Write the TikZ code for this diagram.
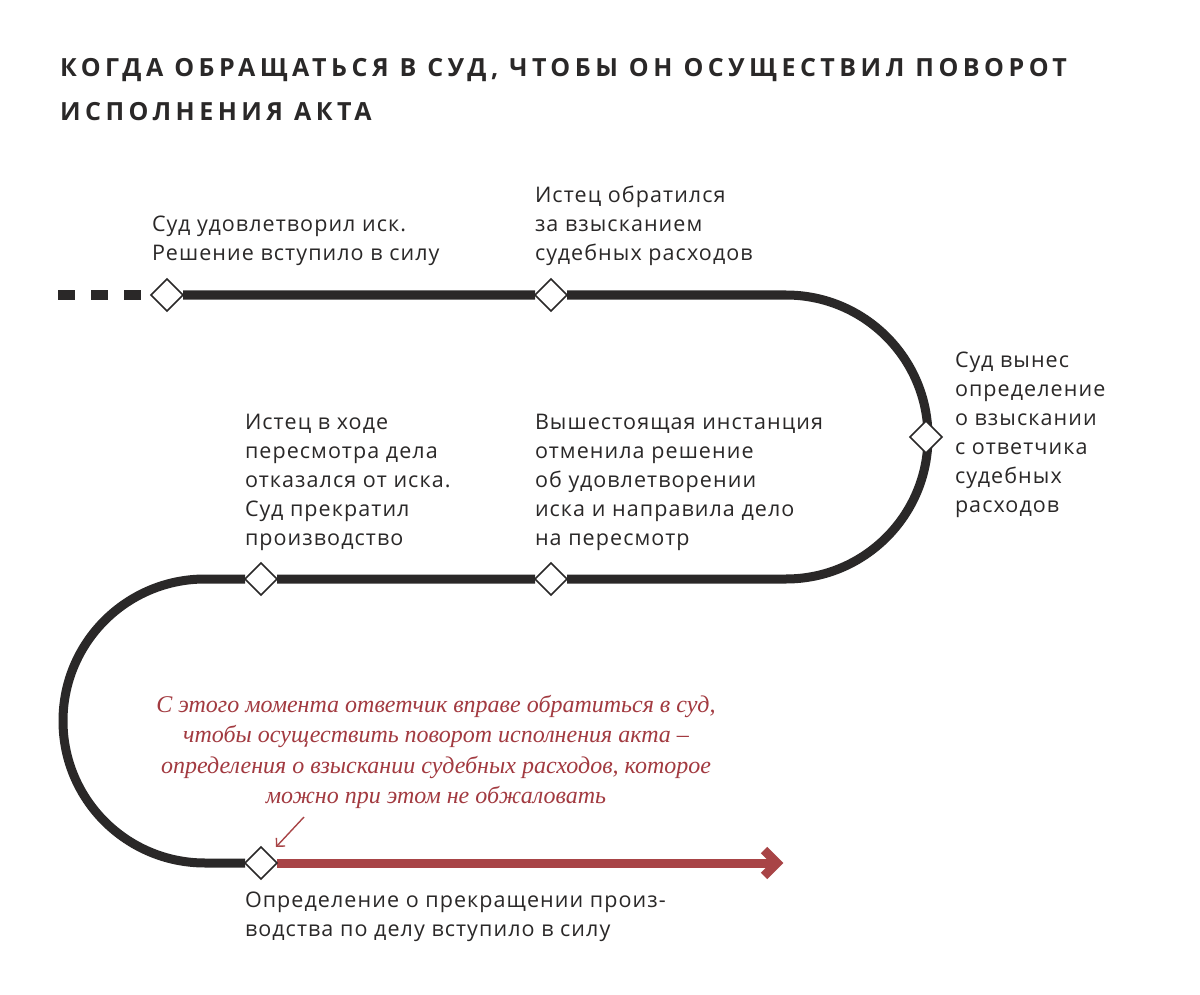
\documentclass[tikz,border=0pt]{standalone}
\usepackage{fontspec}
\setmainfont{Open Sans}
\newfontfamily\notefont{Liberation Serif}
\usetikzlibrary{shapes.geometric,arrows.meta,backgrounds,calc}
\definecolor{ink}{HTML}{2A2828}
\definecolor{wine}{HTML}{A84446}
\definecolor{winetext}{HTML}{A23A40}
\newcommand{\txtblock}[2]{\parbox[t]{#1}{\raggedright #2}}
\begin{document}
\begin{tikzpicture}[x=1pt,y=-1pt,
  body/.style={anchor=base west, inner sep=0pt, outer sep=0pt, text=ink,
    font=\fontsize{21.5}{29}\selectfont\addfontfeatures{LetterSpace=5}},
  headline/.style={anchor=base west, inner sep=0pt, outer sep=0pt, text=ink,
    font=\fontsize{25}{44}\selectfont\bfseries\addfontfeatures{LetterSpace=18}},
  marker/.style={diamond, draw=ink, line width=1.5pt, fill=white,
    minimum width=32pt, minimum height=32pt, inner sep=0pt, outer sep=0pt},
  track/.style={draw=ink, line width=9pt},
  redtrack/.style={draw=wine, line width=9pt},
  note/.style={anchor=base, inner sep=0pt, text=winetext,
    font=\notefont\itshape\fontsize{24}{30.5}\selectfont}
]
\useasboundingbox (0,0) rectangle (1200,995);

% title
\node[headline] (t1) at (60,77) {КОГДА ОБРАЩАТЬСЯ В СУД, ЧТОБЫ ОН ОСУЩЕСТВИЛ ПОВОРОТ};
\node[headline] (t2) at (60,121) {ИСПОЛНЕНИЯ АКТА};

% markers
\node[marker] (d1) at (167,295) {};
\node[marker] (d2) at (551,295) {};
\node[marker] (d3) at (926,437) {};
\node[marker] (d4) at (551,579) {};
\node[marker] (d5) at (261,579) {};
\node[marker] (d6) at (261,863) {};

% free ends and bends
\coordinate (dstart) at (58,295);
\coordinate (r1) at (786,295);
\coordinate (l1) at (205,579);
\coordinate (aend) at (777,863);
\coordinate (n1) at (304,817);
\coordinate (n2) at (276,847);

% labels
\node[body] (la) at (152,232) {\txtblock{340pt}{Суд удовлетворил иск.\\Решение вступило в силу}};
\node[body] (lb) at (535,203) {\txtblock{340pt}{Истец обратился\\за взысканием\\судебных расходов}};
\node[body] (lc) at (955,367) {\txtblock{230pt}{Суд вынес\\определение\\о взыскании\\с ответчика\\судебных\\расходов}};
\node[body] (ld) at (245,429) {\txtblock{280pt}{Истец в ходе\\пересмотра дела\\отказался от иска.\\Суд прекратил\\производство}};
\node[body] (le) at (535,429) {\txtblock{340pt}{Вышестоящая инстанция\\отменила решение\\об удовлетворении\\иска и направила дело\\на пересмотр}};
\node[body] (lf) at (245,907) {\txtblock{500pt}{Определение о прекращении произ-\\водства по делу вступило в силу}};

\node[note] (nt) at (436,712) {\parbox[t]{640pt}{\centering С этого момента ответчик вправе обратиться в суд,\\чтобы осуществить поворот исполнения акта –\\определения о взыскании судебных расходов, которое\\можно при этом не обжаловать}};

\begin{scope}[on background layer]
  \fill[white] (0,0) rectangle (1200,995);
  \draw[track, dash pattern=on 17pt off 16pt] (dstart) -- (d1);
  \draw[track] (d1) -- (d2) -- (r1) arc[start angle=-90, end angle=90, radius=142]
     -- (d4) -- (d5) -- (l1) arc[start angle=-90, end angle=-270, radius=142] -- (d6);
  \draw[redtrack] (d6) -- (aend);
  \draw[redtrack, miter limit=10] ($(aend)+(-13,-13)$) -- (aend) -- ($(aend)+(-13,13)$);
\end{scope}
\draw[wine, line width=1.4pt, -{Straight Barb[length=6pt,width=12pt]}] (n1) -- (n2);
\end{tikzpicture}
\end{document}
